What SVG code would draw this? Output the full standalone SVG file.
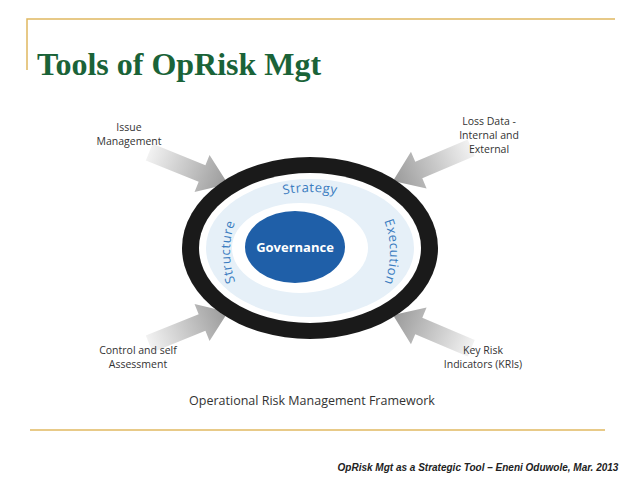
<svg xmlns="http://www.w3.org/2000/svg" width="638" height="479" viewBox="0 0 638 479">
<style>
.lbl{font-family:"Open Sans","DejaVu Sans",sans-serif;font-size:10.5px;fill:#333;text-anchor:middle}
.ring{font-family:"Open Sans","DejaVu Sans",sans-serif;font-size:13px;fill:#3a7cc0;letter-spacing:0.5px}
</style>
<defs>
<linearGradient id="ag" x1="0" y1="0" x2="1" y2="0"><stop offset="0" stop-color="#f2f2f2"/><stop offset="1" stop-color="#999"/></linearGradient>
<path id="pTop" d="M220,248 A90,56 0 0 1 400,248"/>
<path id="pRight" d="M310,168 A80,84 0 0 1 310,336"/>
<path id="pLeft" d="M310,336 A80,84 0 0 1 310,168"/>
</defs>
<rect width="638" height="479" fill="#fff"/>
<g id="frame" stroke="#e0b860" stroke-width="1.5" fill="none">
<path d="M27,70 V19 H615"/>
<path d="M30,430 H605"/>
</g>
<text x="37" y="75" font-family="Liberation Serif,serif" font-weight="bold" font-size="32" fill="#1a6338">Tools of OpRisk Mgt</text>
<g id="connectors">
<polygon fill="url(#ag)" transform="translate(228,184) rotate(22)" points="0,0 -28,-20 -28,-9 -85,-9 -85,9 -28,9 -28,20"/>
<polygon fill="url(#ag)" transform="translate(393,181) rotate(157)" points="0,0 -28,-20 -28,-9 -85,-9 -85,9 -28,9 -28,20"/>
<polygon fill="url(#ag)" transform="translate(228,312) rotate(-22)" points="0,0 -28,-20 -28,-9 -85,-9 -85,9 -28,9 -28,20"/>
<polygon fill="url(#ag)" transform="translate(393,315) rotate(-157)" points="0,0 -28,-20 -28,-9 -85,-9 -85,9 -28,9 -28,20"/>
</g>
<g id="circle">
<ellipse cx="310" cy="248" rx="128" ry="91" fill="#1a1a1a"/>
<ellipse cx="310" cy="248" rx="111" ry="75" fill="#fff"/>
<ellipse cx="310" cy="248" rx="104" ry="69" fill="#e6f0f8"/>
<ellipse cx="300" cy="248" rx="68" ry="45" fill="#fff"/>
</g>
<g id="governance">
<ellipse cx="295" cy="247" rx="50" ry="36" fill="#1f5fa8"/>
<text x="295" y="252" font-family="Open Sans,DejaVu Sans,sans-serif" font-weight="bold" font-size="13" fill="#fff" text-anchor="middle">Governance</text>
</g>
<g id="strategy"><text class="ring"><textPath href="#pTop" startOffset="50%" text-anchor="middle">Strategy</textPath></text></g>
<g id="execution"><text class="ring"><textPath href="#pRight" startOffset="50%" text-anchor="middle">Execution</textPath></text></g>
<g id="structure"><text class="ring"><textPath href="#pLeft" startOffset="50%" text-anchor="middle">Structure</textPath></text></g>
<g id="issue"><text class="lbl" x="129" y="131">Issue</text><text class="lbl" x="129" y="145">Management</text></g>
<g id="loss"><text class="lbl" x="489" y="125">Loss Data -</text><text class="lbl" x="489" y="139">Internal and</text><text class="lbl" x="489" y="153">External</text></g>
<g id="control"><text class="lbl" x="138" y="354">Control and self</text><text class="lbl" x="138" y="368">Assessment</text></g>
<g id="kri"><text class="lbl" x="483" y="354">Key Risk</text><text class="lbl" x="483" y="368">Indicators (KRIs)</text></g>
<text x="312" y="405" font-family="Open Sans,DejaVu Sans,sans-serif" font-size="12.5" fill="#333" text-anchor="middle">Operational Risk Management Framework</text>
<text x="478" y="471" font-family="Liberation Sans,Arial,sans-serif" font-style="italic" font-weight="bold" font-size="10" fill="#222" text-anchor="middle">OpRisk Mgt as a Strategic Tool – Eneni Oduwole, Mar. 2013</text>
</svg>
